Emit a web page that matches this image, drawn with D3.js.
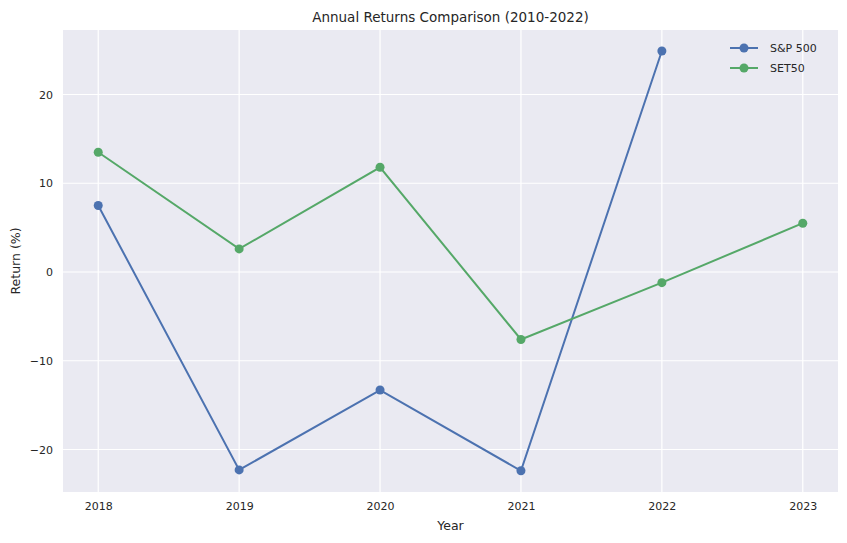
<!DOCTYPE html>
<html><head><meta charset="utf-8">
<script src="https://cdn.jsdelivr.net/npm/d3@7"></script>
<style>body{margin:0;background:#fff}text{font-family:"DejaVu Sans",sans-serif;fill:#262626}</style>
</head><body><svg id="c" width="847" height="543"></svg>
<script>
const years=[2018,2019,2020,2021,2022,2023];
const spYears=[2018,2019,2020,2021,2022];
const spValues=[7.5,-22.3,-13.3,-22.4,24.9];
const setYears=[2018,2019,2020,2021,2022,2023];
const setValues=[13.5,2.6,11.8,-7.6,-1.2,5.5];
const yTicks=[-20,-10,0,10,20];
const series=[{name:"S&P 500",x:spYears,y:spValues,color:"#4c72b0"},{name:"SET50",x:setYears,y:setValues,color:"#55a868"}];
const L=63,R=838,T=30,B=492;
const svg=d3.select("#c");
const x=d3.scaleLinear().domain([2017.75,2023.25]).range([L,R]);
const y=d3.scaleLinear().domain([-24.79,27.27]).range([B,T]);
svg.append("rect").attr("x",L).attr("y",T).attr("width",R-L).attr("height",B-T).attr("fill","#eaeaf2");
svg.append("g").selectAll("line").data(years).join("line").attr("x1",d=>x(d)).attr("x2",d=>x(d)).attr("y1",T).attr("y2",B).attr("stroke","#fff").attr("stroke-width",1.2);
svg.append("g").selectAll("line").data(yTicks).join("line").attr("y1",d=>y(d)).attr("y2",d=>y(d)).attr("x1",L).attr("x2",R).attr("stroke","#fff").attr("stroke-width",1.2);
const xa=svg.append("g").attr("transform",`translate(0,${B})`).call(d3.axisBottom(x).tickValues(years).tickFormat(d3.format("d")).tickSize(0).tickPadding(10));
const ya=svg.append("g").attr("transform",`translate(${L},0)`).call(d3.axisLeft(y).tickValues(yTicks).tickFormat(d=>d<0?"\u2212"+(-d):d).tickSize(0).tickPadding(10));
[xa,ya].forEach(a=>{a.select(".domain").remove();a.selectAll("text").style("font-size","11px").style("font-family","DejaVu Sans");});
series.forEach(s=>{
 const pts=s.x.map((v,i)=>[v,s.y[i]]);
 svg.append("path").datum(pts).attr("d",d3.line().x(d=>x(d[0])).y(d=>y(d[1]))).attr("fill","none").attr("stroke",s.color).attr("stroke-width",2);
 svg.append("g").selectAll("circle").data(pts).join("circle").attr("cx",d=>x(d[0])).attr("cy",d=>y(d[1])).attr("r",4.5).attr("fill",s.color);
});
const lg=svg.append("g").attr("transform","translate(730,48)");
series.forEach((s,i)=>{
 const g=lg.append("g").attr("transform",`translate(0,${i*20})`);
 g.append("line").attr("x1",0).attr("x2",28).attr("stroke",s.color).attr("stroke-width",2);
 g.append("circle").attr("cx",14).attr("r",4.5).attr("fill",s.color);
 g.append("text").attr("x",40).attr("dy","0.35em").style("font-size","11px").text(s.name);
});
svg.append("text").attr("x",(L+R)/2).attr("y",22).attr("text-anchor","middle").style("font-size","13.5px").text("Annual Returns Comparison (2010-2022)");
svg.append("text").attr("x",(L+R)/2).attr("y",530).attr("text-anchor","middle").style("font-size","12.5px").text("Year");
svg.append("text").attr("transform",`translate(20,${(T+B)/2}) rotate(-90)`).attr("text-anchor","middle").style("font-size","12.5px").text("Return (%)");
</script></body></html>
